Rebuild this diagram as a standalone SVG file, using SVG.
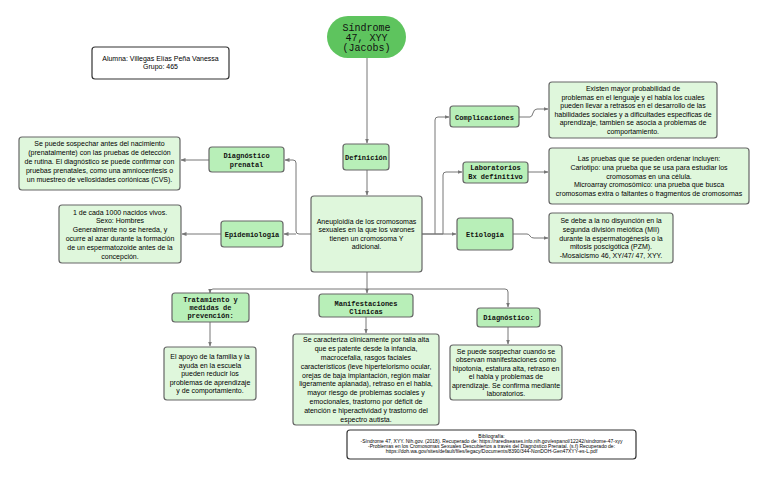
<svg xmlns="http://www.w3.org/2000/svg" width="768" height="493" viewBox="0 0 768 493">
<defs>
<style>
.lbl{fill:#b8efb8;stroke:#666;stroke-width:1.2}
.box{fill:#dff7dc;stroke:#666;stroke-width:1.2}
.plain{fill:#fff;stroke:#333;stroke-width:1.2}
.mono{font-family:"Liberation Mono","DejaVu Sans Mono",monospace;font-size:7px;fill:#111;text-anchor:middle;font-weight:bold}
.ttl{font-family:"Liberation Mono","DejaVu Sans Mono",monospace;font-size:10px;fill:#111;text-anchor:middle}
.sans{font-family:"Liberation Sans",Arial,sans-serif;font-size:7px;fill:#000;text-anchor:middle}
.bib{font-family:"Liberation Sans",Arial,sans-serif;font-size:5px;fill:#000;text-anchor:middle}
.con{fill:none;stroke:#777;stroke-width:1}
</style>
<marker id="ah" viewBox="0 0 10 10" refX="9" refY="5" markerWidth="5" markerHeight="5" orient="auto" markerUnits="userSpaceOnUse">
<path d="M0,1 L10,5 L0,9 z" fill="#777"/>
</marker>
</defs>
<rect width="768" height="493" fill="#fff"/>

<g id="connectors">
<path class="con" marker-end="url(#ah)" d="M367,58 V143"/>
<path class="con" marker-end="url(#ah)" d="M367,170 V195"/>
<path class="con" marker-end="url(#ah)" d="M311,234 H299 Q296,234 296,231 V163 Q296,160 293,160 H285"/>
<path class="con" marker-end="url(#ah)" d="M296,234 H284"/>
<path class="con" marker-end="url(#ah)" d="M209,160 H181"/>
<path class="con" marker-end="url(#ah)" d="M221,234 H182"/>
<path class="con" marker-end="url(#ah)" d="M422,234 H456"/>
<path class="con" marker-end="url(#ah)" d="M422,234 H435 V120 Q435,117 438,117 H449"/>
<path class="con" marker-end="url(#ah)" d="M435,234 H443 V175 Q443,172 446,172 H462"/>
<path class="con" marker-end="url(#ah)" d="M519,117 H530 Q532,117 533,113 Q534,109 537,109 H548"/>
<path class="con" marker-end="url(#ah)" d="M528,172 H548"/>
<path class="con" marker-end="url(#ah)" d="M513,234 H527 Q529,234 530,236 Q531,238 534,238 H548"/>
<path class="con" marker-end="url(#ah)" d="M367,272 V293"/>
<path class="con" marker-end="url(#ah)" d="M367,289 H213 Q210,289 210,292 V293"/>
<path class="con" marker-end="url(#ah)" d="M367,289 H505 Q508,289 508,292 V307"/>
<path class="con" marker-end="url(#ah)" d="M210,322 V346"/>
<path class="con" marker-end="url(#ah)" d="M366,317 V333"/>
<path class="con" marker-end="url(#ah)" d="M508,327 V344"/>
</g>

<g id="title">
<rect x="327" y="16" width="79" height="42" rx="21" fill="#5ec45e"/>
<text class="ttl" x="366.5" y="31">Síndrome</text>
<text class="ttl" x="366.5" y="41">47, XYY</text>
<text class="ttl" x="366.5" y="51">(Jacobs)</text>
</g>

<g id="alumna">
<rect class="plain" x="92" y="47" width="137" height="32" rx="3"/>
<text class="sans" x="160.5" y="60.5">Alumna: Villegas Elías Peña Vanessa</text>
<text class="sans" x="160.5" y="69">Grupo: 465</text>
</g>

<g id="definicion">
<rect class="lbl" x="343" y="144" width="46" height="26" rx="3"/>
<text class="mono" x="366" y="159.5">Definición</text>
</g>

<g id="definicion-texto">
<rect class="box" x="311" y="196" width="111" height="76" rx="3"/>
<text class="sans" x="366.5" y="223.5">Aneuploidía de los cromosomas</text>
<text class="sans" x="366.5" y="232">sexuales en la que los varones</text>
<text class="sans" x="366.5" y="240.5">tienen un cromosoma Y</text>
<text class="sans" x="366.5" y="249">adicional.</text>
</g>

<g id="diagnostico-prenatal">
<rect class="lbl" x="209" y="147" width="75" height="25" rx="3"/>
<text class="mono" x="246.5" y="157.5">Diagnóstico</text>
<text class="mono" x="246.5" y="166.5">prenatal</text>
</g>

<g id="prenatal-texto">
<rect class="box" x="19" y="137" width="161" height="53" rx="3"/>
<text class="sans" x="99.5" y="146.4">Se puede sospechar antes del nacimiento</text>
<text class="sans" x="99.5" y="155.2">(prenatalmente) con las pruebas de detección</text>
<text class="sans" x="99.5" y="164">de rutina. El diagnóstico se puede confirmar con</text>
<text class="sans" x="99.5" y="172.8">pruebas prenatales, como una amniocentesis o</text>
<text class="sans" x="99.5" y="181.6">un muestreo de vellosidades coriónicas (CVS).</text>
</g>

<g id="epidemiologia">
<rect class="lbl" x="221" y="221" width="62" height="26" rx="3"/>
<text class="mono" x="252" y="236.5">Epidemiología</text>
</g>

<g id="epidemiologia-texto">
<rect class="box" x="59" y="205" width="122" height="58" rx="3"/>
<text class="sans" x="120" y="214.5">1 de cada 1000 nacidos vivos.</text>
<text class="sans" x="120" y="223.3">Sexo: Hombres</text>
<text class="sans" x="120" y="232.1">Generalmente no se hereda, y</text>
<text class="sans" x="120" y="240.9">ocurre al azar durante la formación</text>
<text class="sans" x="120" y="249.7">de un espermatozoide antes de la</text>
<text class="sans" x="120" y="258.5">concepción.</text>
</g>

<g id="complicaciones">
<rect class="lbl" x="450" y="106" width="69" height="21" rx="3"/>
<text class="mono" x="484.5" y="119.5">Complicaciones</text>
</g>

<g id="complicaciones-texto">
<rect class="box" x="549" y="82" width="168" height="56" rx="3"/>
<text class="sans" x="633" y="91.3">Existen mayor probabilidad de</text>
<text class="sans" x="633" y="99.8">problemas en el lenguaje y el habla los cuales</text>
<text class="sans" x="633" y="108.3">pueden llevar a retrasos en el desarrollo de las</text>
<text class="sans" x="633" y="116.8">habilidades sociales y a dificultades especificas de</text>
<text class="sans" x="633" y="125.3">aprendizaje, tambien se asocia a problemas de</text>
<text class="sans" x="633" y="133.8">comportamiento.</text>
</g>

<g id="laboratorios">
<rect class="lbl" x="463" y="162" width="65" height="21" rx="3"/>
<text class="mono" x="495.5" y="170">Laboratorios</text>
<text class="mono" x="495.5" y="179">Bx definitivo</text>
</g>

<g id="laboratorios-texto">
<rect class="box" x="549" y="148" width="200" height="56" rx="3"/>
<text class="sans" x="649" y="161">Las pruebas que se pueden ordenar incluyen:</text>
<text class="sans" x="649" y="169.8">Cariotipo: una prueba que se usa para estudiar los</text>
<text class="sans" x="649" y="178.6">cromosomas en una célula.</text>
<text class="sans" x="649" y="187.4">Microarray cromosómico: una prueba que busca</text>
<text class="sans" x="649" y="196.2">cromosomas extra o faltantes o fragmentos de cromosomas</text>
</g>

<g id="etiologia">
<rect class="lbl" x="457" y="218" width="56" height="32" rx="3"/>
<text class="mono" x="485" y="236.5">Etiología</text>
</g>

<g id="etiologia-texto">
<rect class="box" x="549" y="213" width="124" height="50" rx="3"/>
<text class="sans" x="611" y="223.3">Se debe a la no disyunción en la</text>
<text class="sans" x="611" y="231.9">segunda división meiótica (MII)</text>
<text class="sans" x="611" y="240.5">durante la espermatogénesis o la</text>
<text class="sans" x="611" y="249.1">mitosis poscigótica (PZM).</text>
<text class="sans" x="611" y="257.7">-Mosaicismo 46, XY/47/ 47, XYY.</text>
</g>

<g id="tratamiento">
<rect class="lbl" x="172" y="293" width="77" height="29" rx="3"/>
<text class="mono" x="210.5" y="302">Tratamiento y</text>
<text class="mono" x="210.5" y="310">medidas de</text>
<text class="mono" x="210.5" y="318">prevención:</text>
</g>

<g id="tratamiento-texto">
<rect class="box" x="164" y="347" width="92" height="53" rx="3"/>
<text class="sans" x="210" y="359">El apoyo de la familia y la</text>
<text class="sans" x="210" y="367.5">ayuda en la escuela</text>
<text class="sans" x="210" y="376">pueden reducir los</text>
<text class="sans" x="210" y="384.5">problemas de aprendizaje</text>
<text class="sans" x="210" y="393">y de comportamiento.</text>
</g>

<g id="manifestaciones">
<rect class="lbl" x="319" y="294" width="94" height="23" rx="3"/>
<text class="mono" x="366" y="305.5">Manifestaciones</text>
<text class="mono" x="366" y="313.5">Clínicas</text>
</g>

<g id="manifestaciones-texto">
<rect class="box" x="293" y="334" width="146" height="91" rx="3"/>
<text class="sans" x="366" y="342.4">Se caracteriza clínicamente por talla alta</text>
<text class="sans" x="366" y="351.2">que es patente desde la infancia,</text>
<text class="sans" x="366" y="360">macrocefalia, rasgos faciales</text>
<text class="sans" x="366" y="368.8">característicos (leve hipertelorismo ocular,</text>
<text class="sans" x="366" y="377.6">orejas de baja implantación, región malar</text>
<text class="sans" x="366" y="386.4">ligeramente aplanada), retraso en el habla,</text>
<text class="sans" x="366" y="395.2">mayor riesgo de problemas sociales y</text>
<text class="sans" x="366" y="404">emocionales, trastorno por déficit de</text>
<text class="sans" x="366" y="412.8">atención e hiperactividad y trastorno del</text>
<text class="sans" x="366" y="421.6">espectro autista.</text>
</g>

<g id="diagnostico">
<rect class="lbl" x="477" y="308" width="63" height="19" rx="3"/>
<text class="mono" x="508.5" y="320">Diagnóstico:</text>
</g>

<g id="diagnostico-texto">
<rect class="box" x="450" y="345" width="112" height="55" rx="3"/>
<text class="sans" x="506" y="353.8">Se puede sospechar cuando se</text>
<text class="sans" x="506" y="362.3">observan manifestaciones como</text>
<text class="sans" x="506" y="370.8">hipotonía, estatura alta, retraso en</text>
<text class="sans" x="506" y="379.3">el habla y problemas de</text>
<text class="sans" x="506" y="387.8">aprendizaje. Se confirma mediante</text>
<text class="sans" x="506" y="396.3">laboratorios.</text>
</g>

<g id="bibliografia">
<rect class="plain" x="347" y="430" width="289" height="29" rx="3"/>
<text class="bib" x="491.5" y="437.8">Bibliografía:</text>
<text class="bib" x="491.5" y="443">-Síndrome 47, XYY. Nih.gov. (2018). Recuperado de: https://rarediseases.info.nih.gov/espanol/12242/sindrome-47-xyy</text>
<text class="bib" x="491.5" y="448.2">-Problemas en los Cromosomas Sexuales Descubiertos a través del Diagnóstico Prenatal. (s.f) Recuperado de:</text>
<text class="bib" x="491.5" y="453.4">https://doh.wa.gov/sites/default/files/legacy/Documents/8390/344-NonDOH-Gen47XYY-es-L.pdf</text>
</g>
</svg>
